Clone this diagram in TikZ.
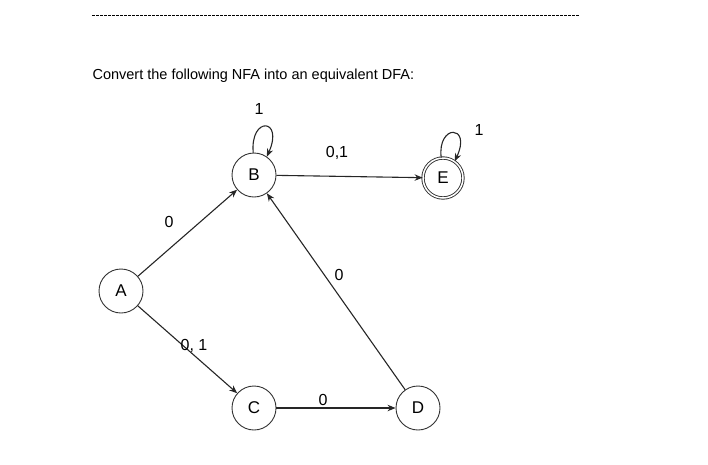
\documentclass[tikz,border=0pt]{standalone}
\usepackage{fontspec}
\setmainfont{Liberation Sans}
\usetikzlibrary{arrows.meta}
\begin{document}
\begin{tikzpicture}[x=1pt,y=-1pt,
  st/.style={circle,draw=black!80,line width=0.9pt,minimum size=44pt,inner sep=0pt,font=\fontsize{17}{19}\selectfont},
  acc/.style={st,double,double distance=1.5pt,minimum size=40pt},
  tr/.style={draw=black!85,line width=1.1pt,-{Stealth[length=8pt,width=6.5pt]}},
  lb/.style={font=\fontsize{16}{18}\selectfont}]
\useasboundingbox (0,0) rectangle (708,464);
\draw[line width=0.5pt,dash pattern=on 3pt off 1pt] (92,15) -- (580,15);
\node[anchor=west,font=\fontsize{14.5}{16}\selectfont] (title) at (89,76) {Convert the following NFA into an equivalent DFA:};
\node[st] (A) at (121,291) {A};
\node[st] (B) at (254,175) {B};
\node[st] (C) at (254,408) {C};
\node[st] (D) at (418,408) {D};
\node[acc] (E) at (443,178) {E};
\draw[tr] (A) -- (B);
\draw[tr] (A) -- (C);
\draw[tr] (B) -- (E);
\draw[tr] (C) -- (D);
\draw[tr] (D) -- (B);
\draw[tr] (B.92) .. controls (250,116) and (284,118) .. (B.55);
\draw[tr] (E.95) .. controls (437,124) and (472,124) .. (E.55);
\node[lb] (l1) at (259,109) {1};
\node[lb] (l2) at (479,130) {1};
\node[lb] (l3) at (169,222) {0};
\node[lb] (l4) at (194,346) {0, 1};
\node[lb] (l5) at (337,153) {0,1};
\node[lb] (l6) at (339,275) {0};
\node[lb] (l7) at (323,400) {0};
\end{tikzpicture}
\end{document}
